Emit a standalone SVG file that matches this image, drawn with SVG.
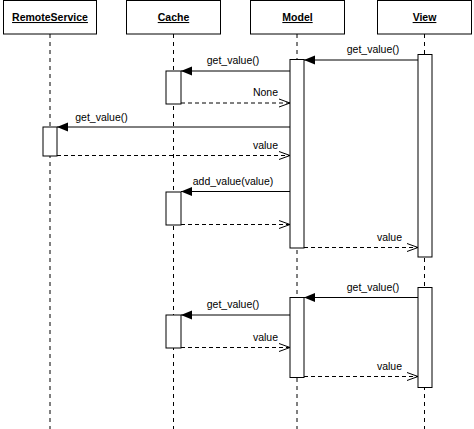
<svg xmlns="http://www.w3.org/2000/svg" width="474" height="429" viewBox="0 0 474 429">
<style>
.hd{fill:#fff;stroke:#000;stroke-width:1}
.ht{font-family:"Liberation Sans",Arial,sans-serif;font-size:10.5px;font-weight:bold;text-decoration:underline;text-anchor:middle}
.life{stroke:#000;stroke-width:1;stroke-dasharray:4,4;fill:none}
.act{fill:#fff;stroke:#000;stroke-width:1}
.call{stroke:#000;stroke-width:1;fill:none;marker-end:url(#fill)}
.ret{stroke:#000;stroke-width:1;fill:none;stroke-dasharray:4,3;marker-end:url(#open)}
.lb{font-family:"Liberation Sans",Arial,sans-serif;font-size:10.5px;fill:#000}
</style>
<defs>
<marker id="fill" markerWidth="12" markerHeight="10" refX="11" refY="5" orient="auto" markerUnits="userSpaceOnUse">
<path d="M0,0.5 L11,5 L0,9.5 Z" fill="#000"/>
</marker>
<marker id="open" markerWidth="12" markerHeight="10" refX="11" refY="5" orient="auto" markerUnits="userSpaceOnUse">
<path d="M0,1 L11,5 L0,9" fill="none" stroke="#000" stroke-width="1"/>
</marker>
</defs>
<rect width="474" height="429" fill="#fff"/>
<g id="lifelines">
<line class="life" x1="50" y1="34" x2="50" y2="429"/>
<line class="life" x1="173.5" y1="34" x2="173.5" y2="429"/>
<line class="life" x1="297" y1="34" x2="297" y2="429"/>
<line class="life" x1="424.5" y1="34" x2="424.5" y2="429"/>
</g>
<g id="RemoteService">
<rect class="hd" x="3.5" y="0.5" width="93" height="33.5"/>
<text class="ht" x="50" y="21">RemoteService</text>
<rect class="act" x="43" y="127" width="14" height="29"/>
</g>
<g id="Cache">
<rect class="hd" x="126.5" y="0.5" width="94" height="33.5"/>
<text class="ht" x="173.5" y="21">Cache</text>
<rect class="act" x="166" y="71" width="15" height="33"/>
<rect class="act" x="166" y="192" width="15" height="33"/>
<rect class="act" x="166" y="315" width="15" height="33"/>
</g>
<g id="Model">
<rect class="hd" x="250.5" y="0.5" width="94" height="33.5"/>
<text class="ht" x="297.5" y="21">Model</text>
<rect class="act" x="290" y="59.5" width="14" height="188.5"/>
<rect class="act" x="290" y="297.5" width="14" height="80"/>
</g>
<g id="View">
<rect class="hd" x="377.5" y="0.5" width="94" height="33.5"/>
<text class="ht" x="424.5" y="21">View</text>
<rect class="act" x="418" y="54.5" width="14" height="202.5"/>
<rect class="act" x="418" y="287.5" width="14" height="100"/>
</g>
<g id="connectors">
<line class="call" x1="418" y1="60" x2="304" y2="60"/>
<text class="lb" x="373" y="53" text-anchor="middle">get_value()</text>
<line class="call" x1="290" y1="71" x2="181" y2="71"/>
<text class="lb" x="233" y="64" text-anchor="middle">get_value()</text>
<line class="ret" x1="181" y1="103" x2="290" y2="103"/>
<text class="lb" x="278" y="96" text-anchor="end">None</text>
<line class="call" x1="290" y1="127" x2="57" y2="127"/>
<text class="lb" x="101.5" y="121" text-anchor="middle">get_value()</text>
<line class="ret" x1="57" y1="155.5" x2="290" y2="155.5"/>
<text class="lb" x="278" y="149" text-anchor="end">value</text>
<line class="call" x1="290" y1="191.5" x2="181" y2="191.5"/>
<text class="lb" x="233" y="185" text-anchor="middle">add_value(value)</text>
<line class="ret" x1="181" y1="224.5" x2="290" y2="224.5"/>
<line class="ret" x1="304" y1="247.5" x2="418" y2="247.5"/>
<text class="lb" x="402" y="241" text-anchor="end">value</text>
<line class="call" x1="418" y1="297.5" x2="304" y2="297.5"/>
<text class="lb" x="373" y="291" text-anchor="middle">get_value()</text>
<line class="call" x1="290" y1="315" x2="181" y2="315"/>
<text class="lb" x="233" y="308" text-anchor="middle">get_value()</text>
<line class="ret" x1="181" y1="347.5" x2="290" y2="347.5"/>
<text class="lb" x="278" y="341" text-anchor="end">value</text>
<line class="ret" x1="304" y1="376.5" x2="418" y2="376.5"/>
<text class="lb" x="402" y="370" text-anchor="end">value</text>
</g>
</svg>
